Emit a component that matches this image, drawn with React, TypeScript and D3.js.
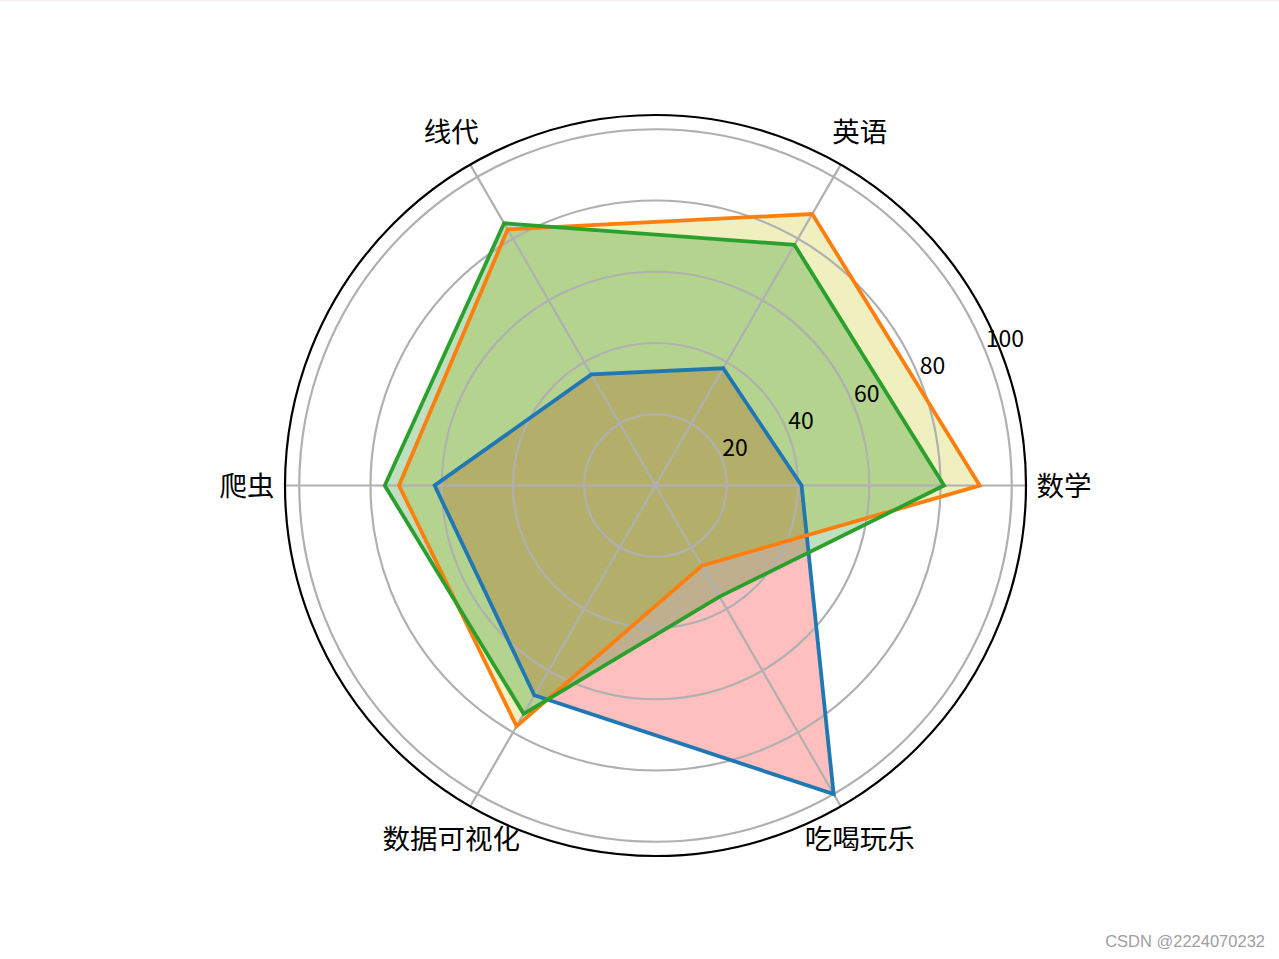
import * as d3 from "d3";

const WIDTH = 1279;
const HEIGHT = 959;
const CX = 655.5;
const CY = 485.5;
const SPINE_R = 370.5;
const R_MAX = 104;
const LABEL_PAD = 38;

const CATEGORIES = ["数学", "英语", "线代", "爬虫", "数据可视化", "吃喝玩乐"];
const R_TICKS = [20, 40, 60, 80, 100];
const SERIES_A = [41, 38, 36, 62, 68, 100];
const SERIES_B = [91, 88, 83, 72, 78, 26];
const SERIES_C = [81, 78, 85, 76, 74, 36];

const LINE_COLORS = ["#1f77b4", "#ff7f0e", "#2ca02c"];
const FILL_COLORS = ["#ff0000", "#bfbf00", "#008000"];

const FONT = "'Noto Sans CJK SC', 'Noto Sans', sans-serif";

// Math-style angle (counter-clockwise from 3 o'clock) for category i.
const theta = (i: number) => (i * 2 * Math.PI) / CATEGORIES.length;
const r = d3.scaleLinear().domain([0, R_MAX]).range([0, SPINE_R]);
const px = (a: number, rad: number) => CX + rad * Math.cos(a);
const py = (a: number, rad: number) => CY - rad * Math.sin(a);

// d3's radial angle runs clockwise from 12 o'clock.
const radial = d3
  .lineRadial<number>()
  .angle((_, i) => Math.PI / 2 - theta(i))
  .radius((d) => r(d))
  .curve(d3.curveLinearClosed);

export default function App() {
  const series = [SERIES_A, SERIES_B, SERIES_C];
  const rlabelAngle = (22.5 * Math.PI) / 180;

  return (
    <svg
      width={WIDTH}
      height={HEIGHT}
      viewBox={`0 0 ${WIDTH} ${HEIGHT}`}
      style={{ position: "absolute", left: 0, top: 0, background: "#fff" }}
    >
      <line x1={0} x2={WIDTH} y1={0.5} y2={0.5} stroke="#f6eeee" strokeWidth={1} />
      <g transform={`translate(${CX},${CY})`}>
        {/* fills underneath everything else, as matplotlib's patch zorder */}
        {series.map((s, k) => (
          <path key={`f${k}`} d={radial(s) ?? ""} fill={FILL_COLORS[k]} fillOpacity={0.25} stroke="none" />
        ))}
      </g>

      {/* grid */}
      <g stroke="#b0b0b0" strokeWidth={2.2} fill="none">
        {R_TICKS.map((t) => (
          <circle key={t} cx={CX} cy={CY} r={r(t)} />
        ))}
        {CATEGORIES.map((c, i) => (
          <line key={c} x1={CX} y1={CY} x2={px(theta(i), SPINE_R)} y2={py(theta(i), SPINE_R)} />
        ))}
      </g>

      <g transform={`translate(${CX},${CY})`}>
        {series.map((s, k) => (
          <path
            key={`l${k}`}
            d={radial(s) ?? ""}
            fill="none"
            stroke={LINE_COLORS[k]}
            strokeWidth={3.8}
            strokeLinejoin="miter"
          />
        ))}
      </g>

      <circle cx={CX} cy={CY} r={SPINE_R} fill="none" stroke="#000" strokeWidth={2.2} />

      {/* radial tick labels at 22.5° */}
      <g fontFamily={FONT} fontSize={23} fill="#000">
        {R_TICKS.map((t) => (
          <text key={t} x={px(rlabelAngle, r(t)) + 1} y={py(rlabelAngle, r(t)) - 2} textAnchor="start">
            {t}
          </text>
        ))}
      </g>

      {/* category labels */}
      <g fontFamily={FONT} fontSize={27.5} fill="#000">
        {CATEGORIES.map((c, i) => {
          const a = theta(i);
          const rr = SPINE_R + LABEL_PAD;
          return (
            <text
              key={c}
              x={px(a, rr)}
              y={py(a, rr) - 2}
              textAnchor="middle"
              dominantBaseline="central"
            >
              {c}
            </text>
          );
        })}
      </g>

      <text
        x={1265}
        y={947}
        textAnchor="end"
        fontFamily="'Liberation Sans', Arial, sans-serif"
        fontSize={16.5}
        fill="#a0a0a0"
      >
        CSDN @2224070232
      </text>
    </svg>
  );
}
